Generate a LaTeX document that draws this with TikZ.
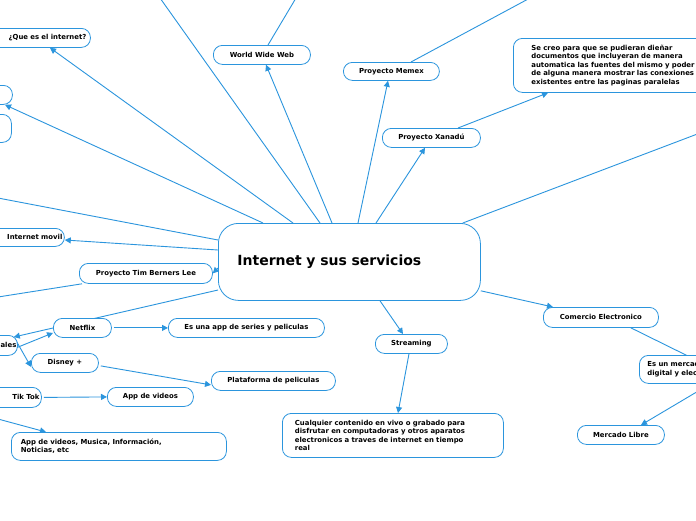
\documentclass[tikz,border=0pt]{standalone}
\usepackage{fontspec}
\setmainfont{DejaVu Sans}
\usetikzlibrary{arrows.meta}
\pgfdeclarelayer{bg}
\pgfsetlayers{bg,main}
\definecolor{ln}{HTML}{2B95DD}
\tikzset{
 bx/.style={draw=ln,line width=0.8pt,rounded corners=9pt,fill=white,font=\bfseries\fontsize{6.9}{8.6}\selectfont,inner sep=0pt,anchor=north west},
 ar/.style={draw=ln,line width=0.9pt,-{Triangle[length=6pt,width=6pt]}},
 pl/.style={draw=ln,line width=0.9pt}
}
\begin{document}
\begin{tikzpicture}[x=1pt,y=-1pt]
\useasboundingbox (0,0) rectangle (696,520);
\clip (0,0) rectangle (696,520);
% nodes
\node[bx,rounded corners=20pt,minimum width=262pt,minimum height=77pt,font=\bfseries\fontsize{14}{16}\selectfont,align=left,text width=250pt] (main) at (218,223) {\hspace*{13pt}Internet y sus servicios};
\node[bx,minimum width=130pt,minimum height=19pt,align=right,text width=122pt] (que) at (-40,28) {¿Que es el internet?\hspace*{20pt}};
\node[bx,minimum width=97pt,minimum height=19pt] (www) at (213,45) {World Wide Web};
\node[bx,minimum width=96pt,minimum height=18pt] (memex) at (343,62) {Proyecto Memex};
\node[bx,minimum width=200pt,minimum height=54pt,align=left,text width=182pt] (secreo) at (513,38) {\hspace*{9pt}\parbox[c]{180pt}{\raggedright Se creo para que se pudieran dieñar\\documentos que incluyeran de manera\\automatica las fuentes del mismo y poder\\de alguna manera mostrar las conexiones\\existentes entre las paginas paralelas}};
\node[bx,minimum width=98pt,minimum height=19pt] (xanadu) at (382,128) {Proyecto Xanadú};
\node[bx,minimum width=60pt,minimum height=19pt] (lb1) at (-48,85) {};
\node[bx,minimum width=60pt,minimum height=28pt] (lb2) at (-49,114) {};
\node[bx,minimum width=110pt,minimum height=18pt,align=right,text width=106pt] (movil) at (-46,228) {Internet movil\hspace*{4pt}};
\node[bx,minimum width=133pt,minimum height=20pt] (tim) at (79,263) {Proyecto Tim Berners Lee};
\node[bx,minimum width=58pt,minimum height=19pt] (netflix) at (53,318) {Netflix};
\node[bx,minimum width=156pt,minimum height=19pt] (serie) at (168,318) {Es una app de series y peliculas};
\node[bx,minimum width=80pt,minimum height=20pt,align=right,text width=78pt] (redes) at (-63,335) {Redes sociales\hspace*{13pt}};
\node[bx,minimum width=67pt,minimum height=19pt] (disney) at (31,353) {Disney +};
\node[bx,minimum width=124pt,minimum height=19pt] (plat) at (211,371) {Plataforma de peliculas};
\node[bx,minimum width=80pt,minimum height=20pt,align=right,text width=76pt] (tiktok) at (-39,387) {Tik Tok};
\node[bx,minimum width=86pt,minimum height=19pt] (appv) at (107,387) {App de videos};
\node[bx,minimum width=215pt,minimum height=28pt,align=left,text width=196pt] (appm) at (11,432) {\hspace*{0pt}App de videos, Musica, Información,\\Noticias, etc};
\node[bx,minimum width=72pt,minimum height=19pt] (stream) at (375,334) {Streaming};
\node[bx,minimum width=221pt,minimum height=44pt,align=left,text width=196pt] (cual) at (282,413) {Cualquier contenido en vivo o grabado para\\disfrutar en computadoras y otros aparatos\\electronicos a traves de internet en tiempo\\real};
\node[bx,minimum width=115pt,minimum height=20pt] (comer) at (543,307) {Comercio Electronico};
\node[bx,minimum width=110pt,minimum height=28pt,align=left,text width=94pt] (esun) at (639,355) {Es un mercado\\digital y electronico};
\node[bx,minimum width=87pt,minimum height=19pt] (merc) at (577,425) {Mercado Libre};
% off-screen coordinates
\coordinate (o1) at (160,-2);
\coordinate (o2) at (296,-2);
\coordinate (o3) at (530,-2);
\coordinate (o4) at (700,133);
\coordinate (o5) at (-2,198);
\coordinate (o6) at (-2,297);
\coordinate (o7) at (-2,419);
\coordinate (o8) at (700,390);
% edges
\begin{pgfonlayer}{bg}
\fill[white] (0,0) rectangle (696,520);
\draw[ar] ([xshift=75pt]main.north west) -- ([xshift=90pt]que.south west);
\draw[ar] ([xshift=45pt]main.north west) -- ([xshift=53pt]lb1.south west);
\draw[pl] ([xshift=102pt]main.north west) -- (o1);
\draw[ar] ([xshift=114pt]main.north west) -- ([xshift=53pt]www.south west);
\draw[pl] ([xshift=55pt]www.north west) -- (o2);
\draw[ar] ([xshift=140pt]main.north west) -- ([xshift=45pt]memex.south west);
\draw[pl] ([xshift=68pt]memex.north west) -- (o3);
\draw[ar] ([xshift=158pt]main.north west) -- ([xshift=43pt]xanadu.south west);
\draw[ar] ([xshift=76pt]xanadu.north west) -- ([xshift=35pt]secreo.south west);
\draw[pl] ([xshift=-18pt]main.north east) -- (o4);
\draw[pl] ([yshift=-17pt]main.north west) -- (o5);
\draw[ar] ([yshift=-27pt]main.north west) -- ([yshift=-12pt]movil.north east);
\draw[ar] ([yshift=-45pt]main.north west) -- (tim.east);
\draw[pl] ([xshift=3pt]tim.south west) -- (o6);
\draw[ar] ([yshift=-67pt]main.north west) -- ([yshift=-2pt,xshift=-4pt]redes.north east);
\draw[ar] ([yshift=-3pt,xshift=-3pt]redes.east) -- ([yshift=-5pt]netflix.west);
\draw[ar] ([yshift=7pt,xshift=-3pt]redes.east) -- ([yshift=-4pt]disney.west);
\draw[ar] ([xshift=2pt]netflix.east) -- (serie.west);
\draw[ar] ([xshift=2pt,yshift=-3pt]disney.east) -- ([yshift=-4pt]plat.west);
\draw[ar] ([xshift=2pt]tiktok.east) -- (appv.west);
\draw[ar] (o7) -- ([xshift=35pt]appm.north west);
\draw[ar] ([xshift=162pt]main.south west) -- ([xshift=28pt]stream.north west);
\draw[ar] ([xshift=34pt]stream.south west) -- ([xshift=116pt]cual.north west);
\draw[ar] ([yshift=10pt]main.south east) -- ([xshift=10pt]comer.north west);
\draw[pl] ([xshift=-28pt]comer.south east) -- ([xshift=57pt,yshift=-5pt]esun.north west);
\draw[ar] (o8) -- ([xshift=64pt]merc.north west);
\end{pgfonlayer}
\end{tikzpicture}
\end{document}
